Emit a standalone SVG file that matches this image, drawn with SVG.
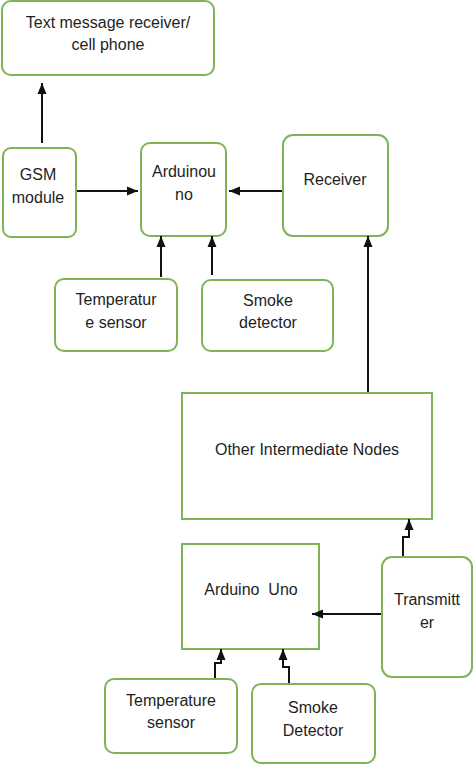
<svg xmlns="http://www.w3.org/2000/svg" width="474" height="765" viewBox="0 0 474 765">
<style>
.box{fill:#fff;stroke:#7eb356;stroke-width:2}
.t{font-family:"Liberation Sans",Arial,sans-serif;font-size:16px;fill:#1e1e1e;text-anchor:middle;white-space:pre}
.c{fill:none;stroke:#111;stroke-width:2}
</style>
<defs>
<marker id="ah" markerUnits="userSpaceOnUse" markerWidth="12" markerHeight="12" viewBox="0 0 12 12" refX="11" refY="6" orient="auto">
<path d="M0,1.5 L11,6 L0,10.5 Z" fill="#111"/>
</marker>
</defs>
<rect width="474" height="765" fill="#fff"/>
<g id="cellphone">
<rect class="box" x="2" y="1" width="212" height="74" rx="9"/>
<text class="t" x="108" y="28">Text message receiver/</text>
<text class="t" x="108" y="50">cell phone</text>
</g>
<g id="gsm">
<rect class="box" x="3" y="148" width="73" height="89" rx="8"/>
<text class="t" x="38" y="180">GSM</text>
<text class="t" x="38" y="203">module</text>
</g>
<g id="arduino1">
<rect class="box" x="141" y="143" width="85" height="93" rx="9"/>
<text class="t" x="184" y="177">Arduinou</text>
<text class="t" x="184" y="200">no</text>
</g>
<g id="receiver">
<rect class="box" x="283" y="135" width="105" height="101" rx="10"/>
<text class="t" x="335" y="185">Receiver</text>
</g>
<g id="temp1">
<rect class="box" x="55" y="279" width="122" height="72" rx="9"/>
<text class="t" x="116" y="305">Temperatur</text>
<text class="t" x="116" y="328">e sensor</text>
</g>
<g id="smoke1">
<rect class="box" x="202" y="280" width="131" height="71" rx="9"/>
<text class="t" x="268" y="306">Smoke</text>
<text class="t" x="268" y="328">detector</text>
</g>
<g id="intermediate">
<rect class="box" x="182" y="393" width="250" height="126"/>
<text class="t" x="307" y="455">Other Intermediate Nodes</text>
</g>
<g id="arduino2">
<rect class="box" x="182" y="544" width="137" height="105"/>
<text class="t" x="251" y="595">Arduino  Uno</text>
</g>
<g id="transmitter">
<rect class="box" x="382" y="557" width="90" height="120" rx="10"/>
<text class="t" x="427" y="605">Transmitt</text>
<text class="t" x="427" y="628">er</text>
</g>
<g id="temp2">
<rect class="box" x="105" y="679" width="132" height="74" rx="9"/>
<text class="t" x="171" y="706">Temperature</text>
<text class="t" x="171" y="728">sensor</text>
</g>
<g id="smoke2">
<rect class="box" x="252" y="684" width="123" height="79" rx="9"/>
<text class="t" x="313" y="713">Smoke</text>
<text class="t" x="313" y="736">Detector</text>
</g>
<g id="connectors">
<line class="c" x1="42" y1="143" x2="42" y2="83" marker-end="url(#ah)"/>
<line class="c" x1="77" y1="191" x2="138" y2="191" marker-end="url(#ah)"/>
<line class="c" x1="282" y1="191" x2="229" y2="191" marker-end="url(#ah)"/>
<line class="c" x1="161" y1="277" x2="161" y2="236" marker-end="url(#ah)"/>
<line class="c" x1="212" y1="275" x2="212" y2="236" marker-end="url(#ah)"/>
<line class="c" x1="368" y1="392" x2="368" y2="236" marker-end="url(#ah)"/>
<polyline class="c" points="403,556 403,537 409,537 409,519" marker-end="url(#ah)"/>
<line class="c" x1="381" y1="614" x2="312" y2="614" marker-end="url(#ah)"/>
<polyline class="c" points="215,678 215,663 221,663 221,649" marker-end="url(#ah)"/>
<polyline class="c" points="289,683 289,667 283,667 283,649" marker-end="url(#ah)"/>
</g>
</svg>
